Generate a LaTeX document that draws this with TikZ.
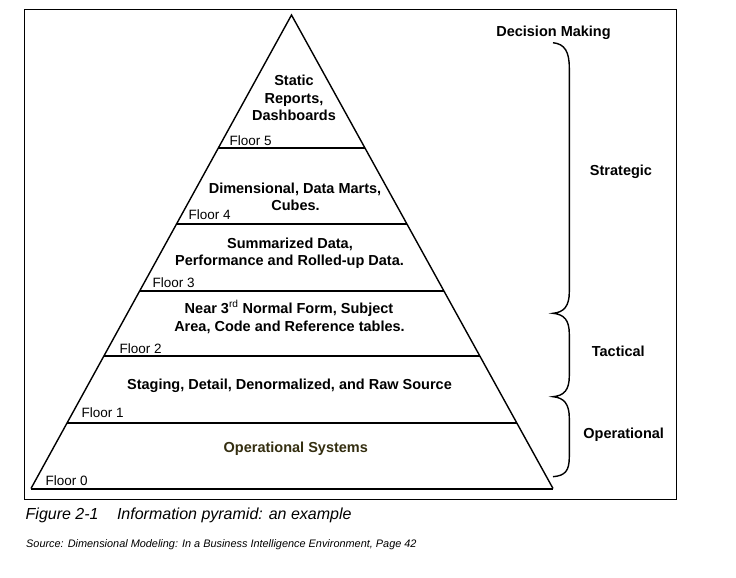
\documentclass[tikz,border=0pt]{standalone}
\usepackage{fontspec}
\setmainfont{Liberation Sans}
\usetikzlibrary{calc}
\definecolor{opsys}{RGB}{52,46,16}
\begin{document}
\begin{tikzpicture}[x=1pt,y=-1pt,
  lbl/.style={font=\fontsize{14.5}{17}\selectfont\bfseries, inner sep=0pt, anchor=base},
  floorlbl/.style={font=\fontsize{13.5}{16}\selectfont, inner sep=0pt, anchor=base west},
  side/.style={line width=1.4pt, line join=miter},
  floorline/.style={line width=2pt},
  framebox/.style={line width=0.9pt},
  bracepath/.style={line width=1.4pt},
  captxt/.style={font=\fontsize{16}{19}\selectfont\itshape, inner sep=0pt, anchor=base west},
  srctxt/.style={font=\fontsize{10.9}{13}\selectfont\itshape, inner sep=0pt, anchor=base west}]
\useasboundingbox (0,0) rectangle (736,578);
\fill[white] (0,0) rectangle (736,578);
% frame
\draw[framebox] (24,9.7) rectangle (676,499);
% pyramid
\coordinate (apex) at (291.5,15);
\coordinate (bl) at (31,488.5);
\coordinate (br) at (553,488.5);
\foreach \n/\t in {5/0.2803,4/0.4414,3/0.5823,2/0.7202,1/0.8617}{
  \coordinate (L\n) at ($(apex)!\t!(bl)$);
  \coordinate (R\n) at ($(apex)!\t!(br)$);
}
\draw[side] (bl) -- (apex) -- (br);
\draw[floorline] (bl) -- (br);
\foreach \n in {1,...,5}{\draw[floorline] (L\n) -- (R\n);}
% floor texts
\node[lbl] (t5a) at (294,85) {Static};
\node[lbl] (t5b) at (294,103) {Reports,};
\node[lbl] (t5c) at (294,120) {Dashboards};
\node[lbl] (t4a) at (295,193) {Dimensional, Data Marts,};
\node[lbl] (t4b) at (295.5,210) {Cubes.};
\node[lbl] (t3a) at (290,248) {Summarized Data,};
\node[lbl] (t3b) at (289.5,265) {Performance and Rolled-up Data.};
\node[lbl] (t2a) at (289,313) {Near 3\textsuperscript{\mdseries rd} Normal Form, Subject};
\node[lbl] (t2b) at (289.5,331) {Area, Code and Reference tables.};
\node[lbl] (t1a) at (289.5,389) {Staging, Detail, Denormalized, and Raw Source};
\node[lbl, text=opsys] (t0a) at (295.8,452) {Operational Systems};
% floor labels
\node[floorlbl] (f5) at (229.5,145) {Floor 5};
\node[floorlbl] (f4) at (188.5,219) {Floor 4};
\node[floorlbl] (f3) at (152.5,287) {Floor 3};
\node[floorlbl] (f2) at (119.5,353) {Floor 2};
\node[floorlbl] (f1) at (81.5,417) {Floor 1};
\node[floorlbl] (f0) at (45.5,485) {Floor 0};
% brace
\coordinate (b0) at (553,42.7);
\coordinate (b1) at (553,313.3);
\coordinate (b2) at (553,396.7);
\coordinate (b3) at (553,476.7);
\draw[bracepath] (b0) .. controls (565,44) and (569.3,52) .. (569.3,68)
  -- (569.3,292) .. controls (569.3,306) and (564,312.3) .. (b1)
  .. controls (564,314.3) and (569.3,320) .. (569.3,334)
  -- (569.3,376) .. controls (569.3,390) and (564,395.7) .. (b2)
  .. controls (564,397.7) and (569.3,404) .. (569.3,418)
  -- (569.3,457) .. controls (569.3,471) and (565,475.7) .. (b3);
% right labels
\node[lbl] (dm) at (553.5,36.7) {Decision Making};
\node[lbl] (st) at (621,175) {Strategic};
\node[lbl] (ta) at (618.3,356) {Tactical};
\node[lbl] (op) at (623.7,438) {Operational};
% caption
\node[captxt] (cap) at (25.5,519) {Figure 2-1\hspace{14pt} Information pyramid: an example};
\node[srctxt] (src) at (26,547) {Source: Dimensional Modeling: In a Business Intelligence Environment, Page 42};
\end{tikzpicture}
\end{document}
